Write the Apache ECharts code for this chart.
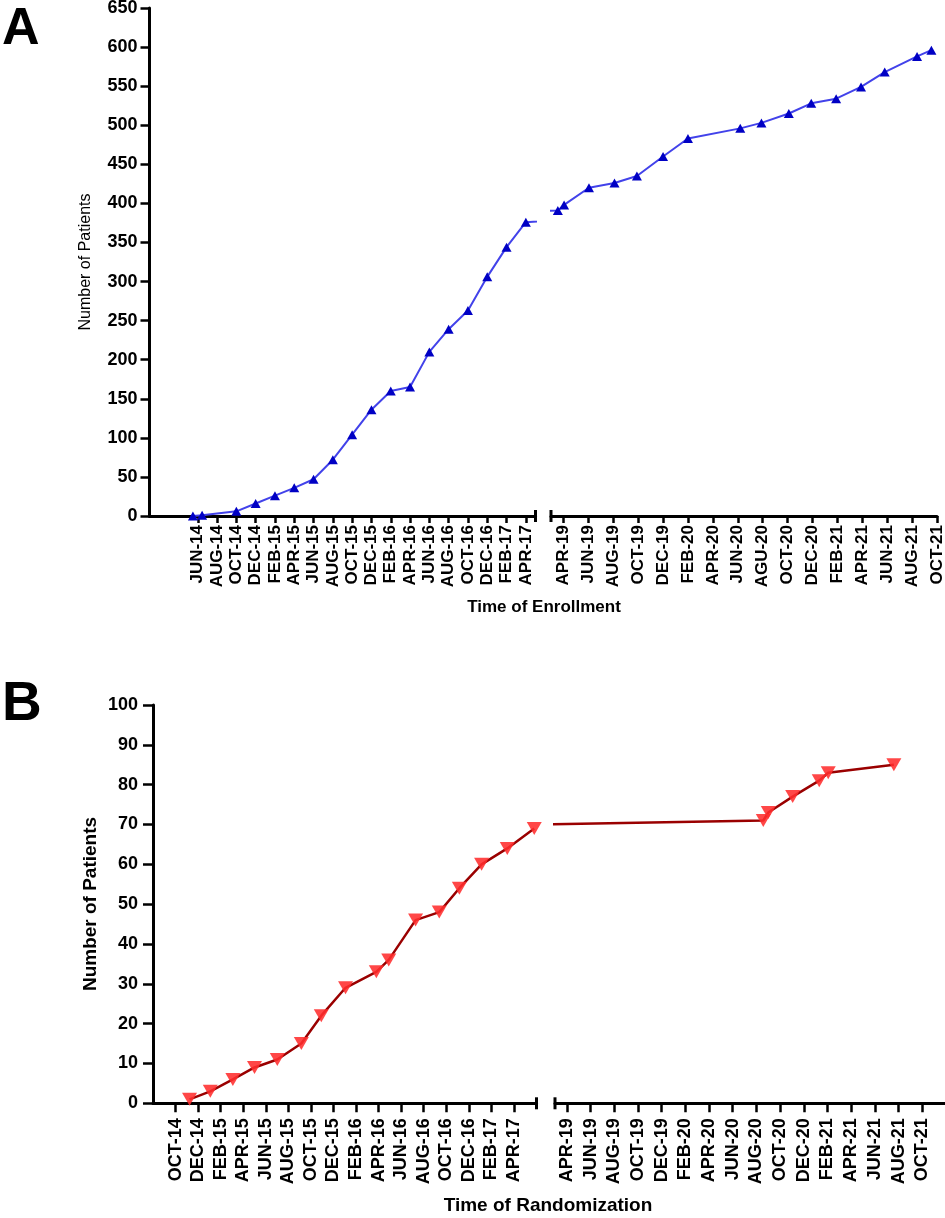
<!DOCTYPE html>
<html><head><meta charset="utf-8">
<script src="https://cdn.jsdelivr.net/npm/echarts@6.0.0/dist/echarts.min.js"></script>
<style>html,body{margin:0;padding:0;background:#fff}#chart{width:945px;height:1218px}</style>
</head><body><div id="chart"></div>
<script>
// ---- tick labels ----
const enrollTicksLeft = ['JUN-14','AUG-14','OCT-14','DEC-14','FEB-15','APR-15','JUN-15','AUG-15','OCT-15','DEC-15','FEB-16','APR-16','JUN-16','AUG-16','OCT-16','DEC-16','FEB-17','APR-17'];
const enrollTicksRight = ['APR-19','JUN-19','AUG-19','OCT-19','DEC-19','FEB-20','APR-20','JUN-20','AGU-20','OCT-20','DEC-20','FEB-21','APR-21','JUN-21','AUG-21','OCT-21'];
const randTicksLeft = ['OCT-14','DEC-14','FEB-15','APR-15','JUN-15','AUG-15','OCT-15','DEC-15','FEB-16','APR-16','JUN-16','AUG-16','OCT-16','DEC-16','FEB-17','APR-17'];
const randTicksRight = ['APR-19','JUN-19','AUG-19','OCT-19','DEC-19','FEB-20','APR-20','JUN-20','AUG-20','OCT-20','DEC-20','FEB-21','APR-21','JUN-21','AUG-21','OCT-21'];

// ---- data: x = months since JAN-14, y = cumulative patients ----
const enrollMonthsLeft = [4.5, 5.45, 9, 11, 13, 15, 17, 19, 21, 23, 25, 27, 29, 31, 33, 35, 37, 39];
const enrollCountsLeft = [0, 1, 6, 16, 26, 36, 47, 72, 104, 136, 160, 165, 210, 239, 263, 306, 344, 376];
const enrollMonthsRight = [62.55, 63.05, 65.05, 67.1, 68.9, 71, 73, 77.2, 78.9, 81.1, 82.9, 84.9, 86.9, 88.8, 91.4, 92.55];
const enrollCountsRight = [391, 398, 420, 426, 435, 460, 483, 496, 503, 515, 528, 534, 549, 568, 588, 596];

const randMonthsLeft = [10.24, 12.08, 14.08, 16.0, 18.02, 20.15, 21.92, 24.07, 26.8, 27.9, 30.28, 32.38, 34.16, 36.13, 38.41, 40.8];
const randCountsLeft = [1, 3, 6, 9, 11, 15, 22, 29, 33, 36, 46, 48, 54, 60, 64, 69];
const randMonthsRight = [79.58, 80.0, 82.06, 84.3, 85.06, 90.6];
const randCountsRight = [71, 73, 77, 81, 83, 85];

const MONTHS = {JAN:0,FEB:1,MAR:2,APR:3,MAY:4,JUN:5,JUL:6,AUG:7,AGU:7,SEP:8,OCT:9,NOV:10,DEC:11};
function monthIndex(label){ const p = label.split('-'); return (parseInt(p[1],10)-14)*12 + MONTHS[p[0]]; }
function pairs(xs, ys){ return xs.map((x,i)=>[x, ys[i]]); }

const FONT = "'Liberation Sans', Arial, Helvetica, sans-serif";

function xAxisFor(gridIndex, min, max, ticks, cap, fontSize, margin, tickLen){
  const vals = ticks.map(monthIndex);
  return {
    type:'value', gridIndex, min, max, position:'bottom',
    axisLine:{show:true, onZero:false, lineStyle:{color:'#000', width:3},
      symbol: cap === 'right' ? ['none','rect'] : (cap === 'left' ? ['rect','none'] : ['none','none']),
      symbolSize:[12,3]},
    axisTick:{show:true, customValues: vals, length: tickLen, lineStyle:{color:'#000', width:2.5}},
    axisLabel:{show:true, customValues: vals, rotate:90, margin, hideOverlap:false,
      formatter: v => { const i = vals.indexOf(v); return i >= 0 ? ticks[i] : ''; },
      color:'#000', fontSize, fontWeight:'bold', fontFamily: FONT},
    splitLine:{show:false}
  };
}
function yAxisFor(gridIndex, max, interval, fontSize, margin, tickLen, visible){
  if (!visible) return {type:'value', gridIndex, min:0, max, interval, show:false};
  return {
    type:'value', gridIndex, min:0, max, interval,
    axisLine:{show:true, lineStyle:{color:'#000', width:3}},
    axisTick:{show:true, length: tickLen, lineStyle:{color:'#000', width:2.5}},
    axisLabel:{show:true, margin, color:'#000', fontSize, fontWeight:'bold', fontFamily: FONT},
    splitLine:{show:false}
  };
}

const blueLine = {color:'#4242ea', width:2};
const blueItem = {color:'#0000c4'};
const redLine = {color:'#9a0000', width:2.5};
const redItem = {color:'rgba(255,45,45,0.88)'};

const enrollLeftData = pairs(enrollMonthsLeft, enrollCountsLeft)
  .concat([{value:[enrollMonthsRight[0], enrollCountsRight[0]], symbol:'none'}]);
const enrollRightData = [{value:[enrollMonthsLeft[enrollMonthsLeft.length-1], enrollCountsLeft[enrollCountsLeft.length-1]], symbol:'none'}]
  .concat(pairs(enrollMonthsRight, enrollCountsRight));
const randLeftData = pairs(randMonthsLeft, randCountsLeft);
const randRightData = [{value:[randMonthsLeft[randMonthsLeft.length-1], randCountsLeft[randCountsLeft.length-1]], symbol:'none'}]
  .concat(pairs(randMonthsRight, randCountsRight));

const chart = echarts.init(document.getElementById('chart'), null, {renderer:'canvas'});
chart.setOption({
  animation:false,
  backgroundColor:'#fff',
  textStyle:{fontFamily: FONT},
  grid:[
    {left:149.5, top:8, width:386, height:508, outerBoundsMode:'none'},
    {left:551, top:8, width:386, height:508, outerBoundsMode:'none'},
    {left:153, top:705, width:383.5, height:398.3, outerBoundsMode:'none'},
    {left:555, top:705, width:391, height:398.3, outerBoundsMode:'none'}
  ],
  xAxis:[
    xAxisFor(0, 0, 40, enrollTicksLeft, 'right', 17, 9, 7),
    xAxisFor(1, 62, 93, enrollTicksRight, 'left', 17, 9, 7),
    xAxisFor(2, 7, 41, randTicksLeft, 'right', 18, 15, 9),
    xAxisFor(3, 62, 95, randTicksRight, 'left', 18, 15, 9)
  ],
  yAxis:[
    yAxisFor(0, 650, 50, 18, 12, 9, true),
    yAxisFor(1, 650, 50, 18, 12, 9, false),
    yAxisFor(2, 100, 10, 18, 15, 10, true),
    yAxisFor(3, 100, 10, 18, 15, 10, false)
  ],
  series:[
    {type:'line', xAxisIndex:0, yAxisIndex:0, data: enrollLeftData, clip:true,
      symbol:'triangle', symbolSize:[10,9], itemStyle: blueItem, lineStyle: blueLine},
    {type:'line', xAxisIndex:1, yAxisIndex:1, data: enrollRightData, clip:true,
      symbol:'triangle', symbolSize:[10,9], itemStyle: blueItem, lineStyle: blueLine},
    {type:'line', xAxisIndex:2, yAxisIndex:2, data: randLeftData, clip:true,
      symbol:'triangle', symbolRotate:180, symbolSize:[15,13], itemStyle: redItem, lineStyle: redLine},
    {type:'line', xAxisIndex:3, yAxisIndex:3, data: randRightData, clip:true,
      symbol:'triangle', symbolRotate:180, symbolSize:[15,13], itemStyle: redItem, lineStyle: redLine}
  ],
  graphic:[
    {type:'text', x:2, y:30, style:{text:'A', fill:'#000', font:'bold 52px ' + FONT, textAlign:'left', textVerticalAlign:'middle'}},
    {type:'text', x:2, y:705, style:{text:'B', fill:'#000', font:'bold 55px ' + FONT, textAlign:'left', textVerticalAlign:'middle'}},
    {type:'text', x:544, y:607, style:{text:'Time of Enrollment', fill:'#000', font:'bold 17px ' + FONT, textAlign:'center', textVerticalAlign:'middle'}},
    {type:'text', x:548, y:1206, style:{text:'Time of Randomization', fill:'#000', font:'bold 19px ' + FONT, textAlign:'center', textVerticalAlign:'middle'}},
    {type:'text', x:86, y:262, rotation:Math.PI/2, style:{text:'Number of Patients', fill:'#000', font:'16px ' + FONT, textAlign:'center', textVerticalAlign:'middle'}},
    {type:'text', x:91, y:904, rotation:Math.PI/2, style:{text:'Number of Patients', fill:'#000', font:'bold 19px ' + FONT, textAlign:'center', textVerticalAlign:'middle'}}
  ]
});
</script>
</body></html>
